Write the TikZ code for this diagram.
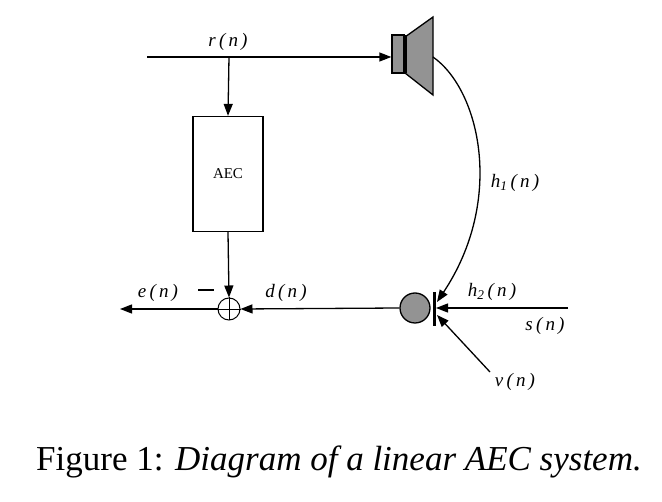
\documentclass[tikz,border=0pt]{standalone}
\usepackage{fontspec}
\setmainfont{Liberation Serif}
\usetikzlibrary{arrows.meta}
\begin{document}
\begin{tikzpicture}[x=1pt,y=-1pt,
  sig/.style={line width=1.3pt,-{Triangle[length=12pt,width=9pt]}},
  lab/.style={font=\fontsize{19}{19}\selectfont\itshape}]
\useasboundingbox (0,0) rectangle (662,502);
% speaker
\draw[line width=1.3pt,fill=gray!85] (405,37) -- (433,17) -- (433,95) -- (405,73) -- cycle;
\node[draw,line width=1.3pt,fill=gray!85,minimum width=12pt,minimum height=38pt,inner sep=0] (spk) at (398,54) {};
\fill (404,35) rectangle (407,73);
\coordinate (in) at (147,57);
\coordinate (br) at (229,57);
\coordinate (spkout) at (433,57);
% AEC
\node[draw,line width=1.3pt,minimum width=70pt,minimum height=115pt,font=\fontsize{15}{15}\selectfont] (aec) at (228,174) {AEC};
\node[draw,circle,line width=1pt,minimum size=22pt,inner sep=0] (sum) at (229,309) {};
\draw[line width=0.6pt] (sum.north)--(sum.south) (sum.west)--(sum.east);
\node[draw,circle,line width=1.3pt,fill=gray!85,minimum size=30pt,inner sep=0] (mic) at (415,308) {};
\draw[line width=3pt] (434,292) -- (434,326);
\coordinate (micin) at (436,308);
\coordinate (out) at (120,309);
\coordinate (sin) at (568,308);
\coordinate (vin) at (490,372);
\draw[sig] (in) -- (spk.west |- in);
\draw[sig] (br) -- (aec.north);
\draw[sig] (aec.south) -- (sum.north);
\draw[sig] (sum.west) -- (out);
\draw[sig] (mic.west) -- (sum.east);
\draw[sig] (spkout) .. controls (480,90) and (505,200) .. (437,302);
\draw[sig] (sin) -- (micin);
\draw[sig] (vin) -- (437,315);
\draw[line width=2pt] (198,290) -- (214,290);
\node[lab] (r) at (228,42) {r\,(\,n\,)};
\node[lab] (e) at (158,293) {e\,(\,n\,)};
\node[lab] (d) at (286,293) {d\,(\,n\,)};
\node[lab] (h1) at (515,183) {h\textsubscript{1}\,(\,n\,)};
\node[lab] (h2) at (492,292) {h\textsubscript{2}\,(\,n\,)};
\node[lab] (s) at (545,326) {s\,(\,n\,)};
\node[lab] (v) at (515,382) {v\,(\,n\,)};
\node[font=\fontsize{35}{35}\selectfont] (cap) at (339,462) {Figure 1: \textit{Diagram of a linear AEC system.}};
\end{tikzpicture}
\end{document}
